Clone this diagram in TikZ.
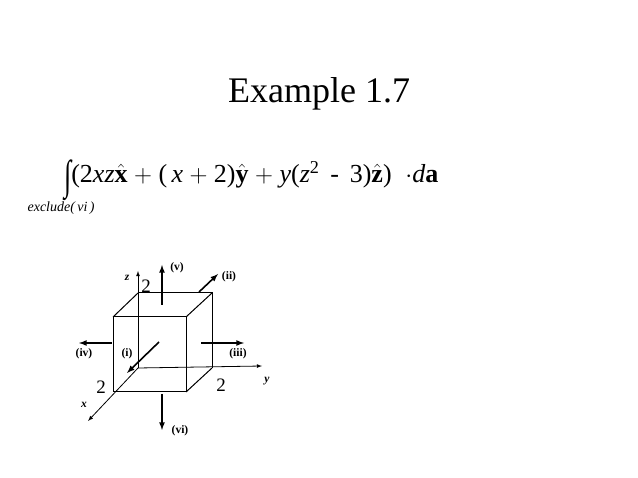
\documentclass[tikz,border=0pt]{standalone}
\usepackage{fontspec}
\setmainfont{Liberation Serif}
\usepackage{graphicx}
\begin{document}
\begin{tikzpicture}[x=1pt,y=-1pt,
  edge/.style={line width=1pt},
  ax/.style={line width=0.8pt,-latex},
  flux/.style={line width=1.6pt,-latex},
  lab/.style={font=\bfseries\fontsize{11.5}{13}\selectfont},
  two/.style={font=\fontsize{19}{20}\selectfont},
  axl/.style={font=\itshape\bfseries\fontsize{11.5}{13}\selectfont}]
\useasboundingbox (0,0) rectangle (638,478);
\node (title) at (319,94) {\fontsize{36}{40}\selectfont Example 1.7};
\node[anchor=west,inner sep=0pt] (eq) at (64,180) {\fontsize{26}{30}\selectfont
 \raisebox{-7pt}{\scalebox{1}[1.6]{∫}}(2\textit{xz}$\hat{\mathbf{x}}$ $+$ (\,\textit{x} $+$ 2)$\hat{\mathbf{y}}$ $+$ \textit{y}(\textit{z}\textsuperscript{2} \,-\, 3)$\hat{\mathbf{z}}$)\; $\cdot$\textit{d}\textbf{a}};
\node (excl) at (61,208) {\itshape\fontsize{14}{16}\selectfont exclude(\,vi\,)};
\coordinate (O) at (138,368);
\coordinate (B1) at (138,293);
\coordinate (B2) at (212,293);
\coordinate (B3) at (212,368);
\coordinate (F1) at (113,317);
\coordinate (F2) at (186,317);
\coordinate (F3) at (186,392);
\coordinate (zend) at (138,271);
\coordinate (yend) at (262,366);
\coordinate (xend) at (88,421);
\draw[ax] (O) -- (zend);
\draw[ax] (O) -- (yend);
\draw[ax] (O) -- (xend);
\draw[edge] (B1) -- (B2) -- (B3);
\draw[edge] (F1) rectangle (F3);
\draw[edge] (F1) -- (B1) (F2) -- (B2) (F3) -- (B3);
\coordinate (v0) at (162,305); \coordinate (v1) at (162,265);
\coordinate (ii0) at (199,292); \coordinate (ii1) at (218,274);
\coordinate (iv0) at (112,343); \coordinate (iv1) at (79,343);
\coordinate (iii0) at (201,343); \coordinate (iii1) at (244,343);
\coordinate (i0) at (159,342); \coordinate (i1) at (127,373);
\coordinate (vi0) at (162,394); \coordinate (vi1) at (162,430);
\draw[flux] (v0) -- (v1);
\draw[flux] (ii0) -- (ii1);
\draw[flux] (iv0) -- (iv1);
\draw[flux] (iii0) -- (iii1);
\draw[flux] (i0) -- (i1);
\draw[flux] (vi0) -- (vi1);
\node[lab] (lv) at (177,268) {(v)};
\node[lab] (lii) at (229,277) {(ii)};
\node[lab] (liv) at (84,354) {(iv)};
\node[lab] (liii) at (238,354) {(iii)};
\node[lab] (li) at (127,354) {(i)};
\node[lab] (lvi) at (180,431) {(vi)};
\node[two] (t1) at (146,286) {2};
\node[two] (t2) at (101,387) {2};
\node[two] (t3) at (221,385) {2};
\node[axl] (lz) at (127,278) {z};
\node[axl] (ly) at (267,381) {y};
\node[axl] (lx) at (84,405) {x};
\end{tikzpicture}
\end{document}
